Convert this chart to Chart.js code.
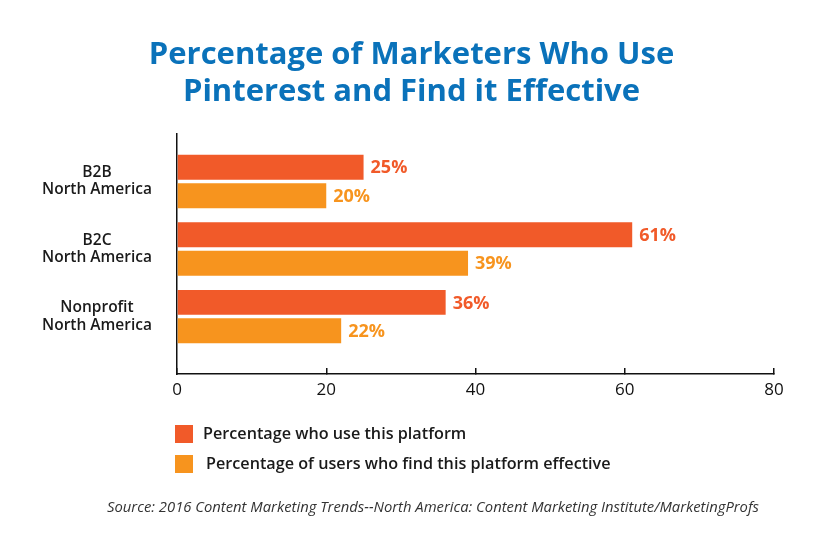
<!DOCTYPE html>
<html>
<head>
<meta charset="utf-8">
<script src="https://cdn.jsdelivr.net/npm/chart.js@4.4.1/dist/chart.umd.min.js"></script>
<style>
  html, body { margin: 0; padding: 0; background: #fff; }
  #wrap { width: 823px; height: 539px; position: relative; }
</style>
</head>
<body>
<div id="wrap"><canvas id="chart"></canvas></div>
<script>
// chart data
const categories = [
    ['B2B', 'North America'],
    ['B2C', 'North America'],
    ['Nonprofit', 'North America']
];
const seriesNames = [
    'Percentage who use this platform',
    'Percentage of users who find this platform effective'
];
const useValues = [25, 61, 36];
const effectiveValues = [20, 39, 22];
const xTicks = [0, 20, 40, 60, 80];
const sourceText = 'Source: 2016 Content Marketing Trends--North America: Content Marketing Institute/MarketingProfs';

const RED = '#f15a29';
const ORANGE = '#f7941e';
const FONT = '"Open Sans", "Noto Sans", sans-serif';

// value labels at the end of each bar
const valueLabels = {
    id: 'valueLabels',
    afterDatasetsDraw(chart) {
        const ctx = chart.ctx;
        ctx.save();
        ctx.font = 'bold 18px ' + FONT;
        ctx.textBaseline = 'middle';
        ctx.textAlign = 'left';
        chart.data.datasets.forEach((ds, i) => {
            const meta = chart.getDatasetMeta(i);
            ctx.fillStyle = ds.backgroundColor;
            meta.data.forEach((bar, j) => {
                ctx.fillText(ds.data[j].x + '%', bar.x + 7, bar.y + 1);
            });
        });
        ctx.restore();
    }
};

// legend stacked in two rows under the axis, plus source line
const bottomLegend = {
    id: 'bottomLegend',
    afterDraw(chart) {
        const ctx = chart.ctx;
        const area = chart.chartArea;
        ctx.save();
        ctx.textBaseline = 'middle';
        ctx.textAlign = 'left';
        ctx.font = '600 16.2px ' + FONT;
        chart.data.datasets.forEach((ds, i) => {
            const y = area.bottom + 51 + i * 30;
            ctx.fillStyle = ds.backgroundColor;
            ctx.fillRect(area.left - 2, y, 18, 18);
            ctx.fillStyle = '#1a1a1a';
            ctx.fillText(ds.label, area.left + 26 + i * 3, y + 9);
        });
        ctx.font = 'italic 14.8px ' + FONT;
        ctx.fillStyle = '#333';
        ctx.textAlign = 'center';
        ctx.fillText(sourceText, 433, area.bottom + 134);
        ctx.restore();
    }
};

const ctx = document.getElementById('chart').getContext('2d');
new Chart(ctx, {
    type: 'bar',
    data: {
        datasets: [{
            label: seriesNames[0],
            data: useValues.map((v, i) => ({ x: v, y: i })),
            backgroundColor: RED,
            categoryPercentage: 0.84,
            barPercentage: 0.88
        }, {
            label: seriesNames[1],
            data: effectiveValues.map((v, i) => ({ x: v, y: i })),
            backgroundColor: ORANGE,
            categoryPercentage: 0.84,
            barPercentage: 0.88
        }]
    },
    options: {
        indexAxis: 'y',
        responsive: true,
        maintainAspectRatio: false,
        animation: false,
        layout: { padding: { left: 0, right: 0, top: 0, bottom: 140 } },
        plugins: {
            legend: { display: false },
            tooltip: { enabled: false },
            title: {
                display: true,
                text: ['Percentage of Marketers Who Use', 'Pinterest and Find it Effective'],
                color: '#0a72ba',
                font: { family: FONT, size: 31, weight: 'bold', lineHeight: 1.18 },
                padding: { top: 37, bottom: 24 }
            }
        },
        scales: {
            x: {
                type: 'linear',
                min: 0,
                max: 80,
                afterBuildTicks: s => { s.ticks = xTicks.map(v => ({ value: v })); },
                afterFit: s => { s.height = 25; },
                grid: { drawOnChartArea: false, tickLength: -6, color: '#111', lineWidth: 1.5 },
                border: { color: '#111', width: 1.5 },
                ticks: { color: '#111', padding: 12, font: { family: FONT, size: 17, weight: '500' } }
            },
            y: {
                type: 'linear',
                reverse: true,
                offset: false,
                min: -0.7,
                max: 2.85,
                afterBuildTicks: s => { s.ticks = categories.map((c, i) => ({ value: i })); },
                afterFit: s => { s.width = 177; },
                grid: { display: false, drawTicks: false },
                border: { color: '#111', width: 1.5 },
                ticks: {
                    crossAlign: 'center',
                    padding: 25,
                    color: '#1a1a1a',
                    font: { family: FONT, size: 15.5, weight: '600', lineHeight: 1.1 },
                    callback: v => categories[v]
                }
            },
            // empty right-hand gutter so the plot stops at 80 while the title stays centred
            gutter: {
                type: 'linear',
                position: 'right',
                afterFit: s => { s.width = 49; },
                grid: { display: false },
                border: { display: false },
                ticks: { display: false }
            }
        }
    },
    plugins: [valueLabels, bottomLegend]
});
</script>
</body>
</html>
